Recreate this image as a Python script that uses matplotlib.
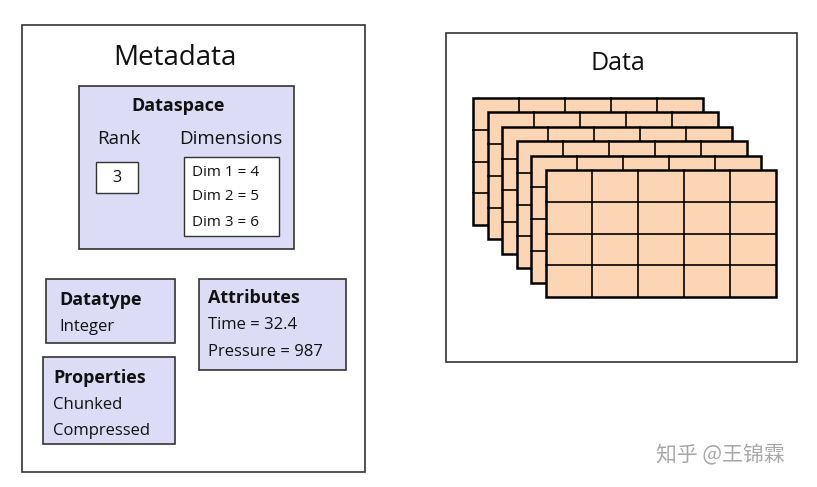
import matplotlib
matplotlib.use("Agg")
import matplotlib.pyplot as plt
from matplotlib.patches import Rectangle

# text content of the diagram
rank = "3"
dims = ["Dim 1 = 4", "Dim 2 = 5", "Dim 3 = 6"]
datatype = ["Datatype", "Integer"]
attributes = ["Attributes", "Time = 32.4", "Pressure = 987"]
properties = ["Properties", "Chunked", "Compressed"]
n_layers = 6
n_rows, n_cols = 4, 5

LAV = "#dcdcf6"
PEACH = "#fcd5b4"
FONT = ["Open Sans", "DejaVu Sans"]

fig = plt.figure(figsize=(8.17, 4.87), dpi=100)
ax = fig.add_axes([0, 0, 1, 1])
ax.set_xlim(0, 817)
ax.set_ylim(487, 0)
ax.axis("off")


def box(x0, y0, x1, y1, fc="white", lw=1.2):
    ax.add_patch(Rectangle((x0, y0), x1 - x0, y1 - y0, fc=fc, ec="#333333", lw=lw))


def txt(x, y, s, size=12, bold=False, ha="left"):
    ax.text(x, y, s, fontsize=size, fontweight="bold" if bold else "normal",
            ha=ha, va="center", family=FONT, color="#111111")


# Metadata panel
box(22, 25, 365, 472)
txt(175, 58, "Metadata", size=20, ha="center")

box(79, 86, 294, 249, fc=LAV)
txt(178, 106, "Dataspace", size=13, bold=True, ha="center")
txt(119, 139, "Rank", size=13.5, ha="center")
txt(231, 139, "Dimensions", size=13.5, ha="center")
box(96, 162, 138, 193, lw=1)
txt(117, 178, rank, size=11.5, ha="center")
box(184, 157, 279, 236, lw=1)
for i, d in enumerate(dims):
    txt(192, 172 + 25 * i, d, size=11)

box(46, 279, 175, 343, fc=LAV)
txt(59, 300, datatype[0], size=13, bold=True)
txt(59, 327, datatype[1], size=12)

box(199, 279, 346, 370, fc=LAV)
txt(208, 298, attributes[0], size=13, bold=True)
for i, s in enumerate(attributes[1:]):
    txt(208, 325 + 27 * i, s, size=12)

box(43, 357, 175, 444, fc=LAV)
txt(53, 378, properties[0], size=13, bold=True)
for i, s in enumerate(properties[1:]):
    txt(53, 405 + 26 * i, s, size=12)

# Data panel
box(446, 33, 797, 362)
txt(618, 63, "Data", size=18, ha="center")

w, h = 230, 127
for k in range(n_layers):
    x0 = 473 + 14.6 * k
    y0 = 98 + 14.4 * k
    ax.add_patch(Rectangle((x0, y0), w, h, fc=PEACH, ec="black", lw=1.8, zorder=2 + k))
    for c in range(1, n_cols):
        ax.plot([x0 + w * c / n_cols] * 2, [y0, y0 + h], color="black", lw=1.2, zorder=2 + k)
    for r in range(1, n_rows):
        ax.plot([x0, x0 + w], [y0 + h * r / n_rows] * 2, color="black", lw=1.2, zorder=2 + k)

ax.text(720, 455, "知乎 @王锦霖", fontsize=15, ha="center", va="center",
        color="#a8a8a8", family=["Noto Sans CJK SC", "DejaVu Sans"])

fig.savefig("out.png", dpi=100)
